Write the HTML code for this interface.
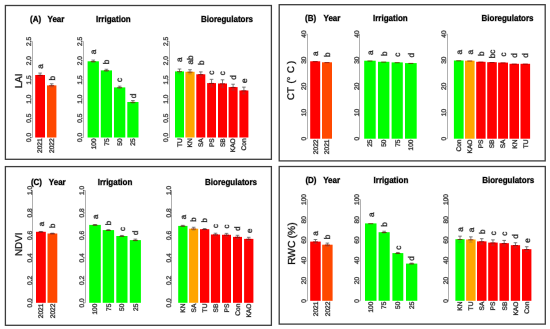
<!DOCTYPE html>
<html><head><meta charset="utf-8"><style>
html,body{margin:0;padding:0;background:#fff;}
svg{display:block;}
#w{width:550px;height:329px;will-change:transform;}
text{font-family:"Liberation Sans",sans-serif;stroke:#000;stroke-opacity:0.35;stroke-width:0.8px;paint-order:stroke;text-rendering:geometricPrecision;}
</style></head><body><div id="w">
<svg width="550" height="329" viewBox="0 0 550 329">
<rect width="550" height="329" fill="#fff"/>
<rect x="5.4" y="5.5" width="266.0" height="153.8" fill="none" stroke="#3c3c3c" stroke-width="1.3"/>
<rect x="279.2" y="4.7" width="266.00000000000006" height="156.20000000000002" fill="none" stroke="#3c3c3c" stroke-width="1.3"/>
<rect x="5.4" y="166.6" width="266.0" height="158.70000000000002" fill="none" stroke="#3c3c3c" stroke-width="1.3"/>
<rect x="279.2" y="166.5" width="266.09999999999997" height="157.60000000000002" fill="none" stroke="#3c3c3c" stroke-width="1.3"/>
<text transform="translate(30.00,21.90) scale(1,1.1)" font-size="8.0" font-weight="bold" text-anchor="start" fill="#000">(A)</text>
<text transform="translate(47.50,21.90) scale(1,1.1)" font-size="8.0" font-weight="bold" text-anchor="start" fill="#000">Year</text>
<text transform="translate(96.00,21.90) scale(1,1.1)" font-size="8.0" font-weight="bold" text-anchor="start" fill="#000">Irrigation</text>
<text transform="translate(201.00,21.90) scale(1,1.1)" font-size="8.0" font-weight="bold" text-anchor="start" fill="#000">Bioregulators</text>
<text transform="translate(22.00,88.30) rotate(-90)" font-size="9.9" font-weight="normal" text-anchor="start" fill="#111">LAI</text>
<line x1="32.50" y1="137.50" x2="32.50" y2="41.40" stroke="#b0b0b0" stroke-width="1.0"/>
<line x1="30.70" y1="137.50" x2="32.50" y2="137.50" stroke="#b0b0b0" stroke-width="0.8"/>
<text transform="translate(31.00,137.50) rotate(-90)" font-size="6.6" font-weight="normal" text-anchor="middle" fill="#333">0.0</text>
<line x1="30.70" y1="118.28" x2="32.50" y2="118.28" stroke="#b0b0b0" stroke-width="0.8"/>
<text transform="translate(31.00,118.28) rotate(-90)" font-size="6.6" font-weight="normal" text-anchor="middle" fill="#333">0.5</text>
<line x1="30.70" y1="99.06" x2="32.50" y2="99.06" stroke="#b0b0b0" stroke-width="0.8"/>
<text transform="translate(31.00,99.06) rotate(-90)" font-size="6.6" font-weight="normal" text-anchor="middle" fill="#333">1.0</text>
<line x1="30.70" y1="79.84" x2="32.50" y2="79.84" stroke="#b0b0b0" stroke-width="0.8"/>
<text transform="translate(31.00,79.84) rotate(-90)" font-size="6.6" font-weight="normal" text-anchor="middle" fill="#333">1.5</text>
<line x1="30.70" y1="60.62" x2="32.50" y2="60.62" stroke="#b0b0b0" stroke-width="0.8"/>
<text transform="translate(31.00,60.62) rotate(-90)" font-size="6.6" font-weight="normal" text-anchor="middle" fill="#333">2.0</text>
<line x1="30.70" y1="41.40" x2="32.50" y2="41.40" stroke="#b0b0b0" stroke-width="0.8"/>
<text transform="translate(31.00,41.40) rotate(-90)" font-size="6.6" font-weight="normal" text-anchor="middle" fill="#333">2.5</text>
<rect x="35.20" y="75.00" width="9.80" height="62.50" fill="#ff0000"/>
<line x1="40.10" y1="73.08" x2="40.10" y2="75.00" stroke="#606060" stroke-width="0.8"/>
<line x1="38.30" y1="73.08" x2="41.90" y2="73.08" stroke="#606060" stroke-width="0.8"/>
<g opacity="0.45">
<line x1="40.10" y1="75.00" x2="40.10" y2="76.92" stroke="#606060" stroke-width="0.8"/>
<line x1="38.30" y1="76.92" x2="41.90" y2="76.92" stroke="#606060" stroke-width="0.8"/>
</g>
<line x1="37.60" y1="75.30" x2="42.60" y2="75.30" stroke="#700000" stroke-width="0.7"/>
<text transform="translate(42.90,68.80) rotate(-90)" font-size="8.2" font-weight="normal" text-anchor="start" fill="#1a1a1a">a</text>
<text transform="translate(42.40,138.30) rotate(-90)" font-size="6.6" font-weight="normal" text-anchor="end" fill="#222">2021</text>
<rect x="47.00" y="85.40" width="9.40" height="52.10" fill="#ff4800"/>
<line x1="51.70" y1="83.80" x2="51.70" y2="85.40" stroke="#606060" stroke-width="0.8"/>
<line x1="49.90" y1="83.80" x2="53.50" y2="83.80" stroke="#606060" stroke-width="0.8"/>
<g opacity="0.45">
<line x1="51.70" y1="85.40" x2="51.70" y2="87.00" stroke="#606060" stroke-width="0.8"/>
<line x1="49.90" y1="87.00" x2="53.50" y2="87.00" stroke="#606060" stroke-width="0.8"/>
</g>
<line x1="49.20" y1="85.70" x2="54.20" y2="85.70" stroke="#700000" stroke-width="0.7"/>
<text transform="translate(54.50,80.40) rotate(-90)" font-size="8.2" font-weight="normal" text-anchor="start" fill="#1a1a1a">b</text>
<text transform="translate(54.00,138.30) rotate(-90)" font-size="6.6" font-weight="normal" text-anchor="end" fill="#222">2022</text>
<line x1="83.50" y1="137.50" x2="83.50" y2="41.40" stroke="#b0b0b0" stroke-width="1.0"/>
<line x1="81.70" y1="137.50" x2="83.50" y2="137.50" stroke="#b0b0b0" stroke-width="0.8"/>
<text transform="translate(82.40,137.50) rotate(-90)" font-size="6.6" font-weight="normal" text-anchor="middle" fill="#333">0.0</text>
<line x1="81.70" y1="118.28" x2="83.50" y2="118.28" stroke="#b0b0b0" stroke-width="0.8"/>
<text transform="translate(82.40,118.28) rotate(-90)" font-size="6.6" font-weight="normal" text-anchor="middle" fill="#333">0.5</text>
<line x1="81.70" y1="99.06" x2="83.50" y2="99.06" stroke="#b0b0b0" stroke-width="0.8"/>
<text transform="translate(82.40,99.06) rotate(-90)" font-size="6.6" font-weight="normal" text-anchor="middle" fill="#333">1.0</text>
<line x1="81.70" y1="79.84" x2="83.50" y2="79.84" stroke="#b0b0b0" stroke-width="0.8"/>
<text transform="translate(82.40,79.84) rotate(-90)" font-size="6.6" font-weight="normal" text-anchor="middle" fill="#333">1.5</text>
<line x1="81.70" y1="60.62" x2="83.50" y2="60.62" stroke="#b0b0b0" stroke-width="0.8"/>
<text transform="translate(82.40,60.62) rotate(-90)" font-size="6.6" font-weight="normal" text-anchor="middle" fill="#333">2.0</text>
<line x1="81.70" y1="41.40" x2="83.50" y2="41.40" stroke="#b0b0b0" stroke-width="0.8"/>
<text transform="translate(82.40,41.40) rotate(-90)" font-size="6.6" font-weight="normal" text-anchor="middle" fill="#333">2.5</text>
<rect x="87.60" y="61.30" width="11.30" height="76.20" fill="#00ff00"/>
<line x1="93.25" y1="60.10" x2="93.25" y2="61.30" stroke="#606060" stroke-width="0.8"/>
<line x1="91.45" y1="60.10" x2="95.05" y2="60.10" stroke="#606060" stroke-width="0.8"/>
<g opacity="0.45">
<line x1="93.25" y1="61.30" x2="93.25" y2="62.50" stroke="#606060" stroke-width="0.8"/>
<line x1="91.45" y1="62.50" x2="95.05" y2="62.50" stroke="#606060" stroke-width="0.8"/>
</g>
<line x1="90.75" y1="61.60" x2="95.75" y2="61.60" stroke="#700000" stroke-width="0.7"/>
<text transform="translate(96.05,54.20) rotate(-90)" font-size="8.2" font-weight="normal" text-anchor="start" fill="#1a1a1a">a</text>
<text transform="translate(95.55,138.30) rotate(-90)" font-size="6.6" font-weight="normal" text-anchor="end" fill="#222">100</text>
<rect x="100.80" y="70.40" width="11.20" height="67.10" fill="#00ff00"/>
<line x1="106.40" y1="69.28" x2="106.40" y2="70.40" stroke="#606060" stroke-width="0.8"/>
<line x1="104.60" y1="69.28" x2="108.20" y2="69.28" stroke="#606060" stroke-width="0.8"/>
<g opacity="0.45">
<line x1="106.40" y1="70.40" x2="106.40" y2="71.52" stroke="#606060" stroke-width="0.8"/>
<line x1="104.60" y1="71.52" x2="108.20" y2="71.52" stroke="#606060" stroke-width="0.8"/>
</g>
<line x1="103.90" y1="70.70" x2="108.90" y2="70.70" stroke="#700000" stroke-width="0.7"/>
<text transform="translate(109.20,64.20) rotate(-90)" font-size="8.2" font-weight="normal" text-anchor="start" fill="#1a1a1a">b</text>
<text transform="translate(108.70,138.30) rotate(-90)" font-size="6.6" font-weight="normal" text-anchor="end" fill="#222">75</text>
<rect x="114.00" y="87.40" width="11.30" height="50.10" fill="#00ff00"/>
<line x1="119.65" y1="86.20" x2="119.65" y2="87.40" stroke="#606060" stroke-width="0.8"/>
<line x1="117.85" y1="86.20" x2="121.45" y2="86.20" stroke="#606060" stroke-width="0.8"/>
<g opacity="0.45">
<line x1="119.65" y1="87.40" x2="119.65" y2="88.60" stroke="#606060" stroke-width="0.8"/>
<line x1="117.85" y1="88.60" x2="121.45" y2="88.60" stroke="#606060" stroke-width="0.8"/>
</g>
<line x1="117.15" y1="87.70" x2="122.15" y2="87.70" stroke="#700000" stroke-width="0.7"/>
<text transform="translate(122.45,81.90) rotate(-90)" font-size="8.2" font-weight="normal" text-anchor="start" fill="#1a1a1a">c</text>
<text transform="translate(121.95,138.30) rotate(-90)" font-size="6.6" font-weight="normal" text-anchor="end" fill="#222">50</text>
<rect x="127.30" y="102.00" width="11.20" height="35.50" fill="#00ff00"/>
<line x1="132.90" y1="100.56" x2="132.90" y2="102.00" stroke="#606060" stroke-width="0.8"/>
<line x1="131.10" y1="100.56" x2="134.70" y2="100.56" stroke="#606060" stroke-width="0.8"/>
<g opacity="0.45">
<line x1="132.90" y1="102.00" x2="132.90" y2="103.44" stroke="#606060" stroke-width="0.8"/>
<line x1="131.10" y1="103.44" x2="134.70" y2="103.44" stroke="#606060" stroke-width="0.8"/>
</g>
<line x1="130.40" y1="102.30" x2="135.40" y2="102.30" stroke="#700000" stroke-width="0.7"/>
<text transform="translate(135.70,98.30) rotate(-90)" font-size="8.2" font-weight="normal" text-anchor="start" fill="#1a1a1a">d</text>
<text transform="translate(135.20,138.30) rotate(-90)" font-size="6.6" font-weight="normal" text-anchor="end" fill="#222">25</text>
<line x1="169.50" y1="137.50" x2="169.50" y2="41.40" stroke="#b0b0b0" stroke-width="1.0"/>
<line x1="167.70" y1="137.50" x2="169.50" y2="137.50" stroke="#b0b0b0" stroke-width="0.8"/>
<text transform="translate(167.70,137.50) rotate(-90)" font-size="6.6" font-weight="normal" text-anchor="middle" fill="#333">0.0</text>
<line x1="167.70" y1="118.28" x2="169.50" y2="118.28" stroke="#b0b0b0" stroke-width="0.8"/>
<text transform="translate(167.70,118.28) rotate(-90)" font-size="6.6" font-weight="normal" text-anchor="middle" fill="#333">0.5</text>
<line x1="167.70" y1="99.06" x2="169.50" y2="99.06" stroke="#b0b0b0" stroke-width="0.8"/>
<text transform="translate(167.70,99.06) rotate(-90)" font-size="6.6" font-weight="normal" text-anchor="middle" fill="#333">1.0</text>
<line x1="167.70" y1="79.84" x2="169.50" y2="79.84" stroke="#b0b0b0" stroke-width="0.8"/>
<text transform="translate(167.70,79.84) rotate(-90)" font-size="6.6" font-weight="normal" text-anchor="middle" fill="#333">1.5</text>
<line x1="167.70" y1="60.62" x2="169.50" y2="60.62" stroke="#b0b0b0" stroke-width="0.8"/>
<text transform="translate(167.70,60.62) rotate(-90)" font-size="6.6" font-weight="normal" text-anchor="middle" fill="#333">2.0</text>
<line x1="167.70" y1="41.40" x2="169.50" y2="41.40" stroke="#b0b0b0" stroke-width="0.8"/>
<text transform="translate(167.70,41.40) rotate(-90)" font-size="6.6" font-weight="normal" text-anchor="middle" fill="#333">2.5</text>
<rect x="175.00" y="71.40" width="9.00" height="66.10" fill="#00ff00"/>
<line x1="179.50" y1="69.00" x2="179.50" y2="71.40" stroke="#606060" stroke-width="0.8"/>
<line x1="177.70" y1="69.00" x2="181.30" y2="69.00" stroke="#606060" stroke-width="0.8"/>
<g opacity="0.45">
<line x1="179.50" y1="71.40" x2="179.50" y2="73.80" stroke="#606060" stroke-width="0.8"/>
<line x1="177.70" y1="73.80" x2="181.30" y2="73.80" stroke="#606060" stroke-width="0.8"/>
</g>
<line x1="177.00" y1="71.70" x2="182.00" y2="71.70" stroke="#700000" stroke-width="0.7"/>
<text transform="translate(182.30,62.10) rotate(-90)" font-size="8.2" font-weight="normal" text-anchor="start" fill="#1a1a1a">a</text>
<text transform="translate(181.80,138.30) rotate(-90)" font-size="6.6" font-weight="normal" text-anchor="end" fill="#222">TU</text>
<rect x="185.40" y="71.80" width="9.20" height="65.70" fill="#ffa500"/>
<line x1="190.00" y1="69.72" x2="190.00" y2="71.80" stroke="#606060" stroke-width="0.8"/>
<line x1="188.20" y1="69.72" x2="191.80" y2="69.72" stroke="#606060" stroke-width="0.8"/>
<g opacity="0.45">
<line x1="190.00" y1="71.80" x2="190.00" y2="73.88" stroke="#606060" stroke-width="0.8"/>
<line x1="188.20" y1="73.88" x2="191.80" y2="73.88" stroke="#606060" stroke-width="0.8"/>
</g>
<line x1="187.50" y1="72.10" x2="192.50" y2="72.10" stroke="#700000" stroke-width="0.7"/>
<text transform="translate(192.80,64.60) rotate(-90)" font-size="8.2" font-weight="normal" text-anchor="start" fill="#1a1a1a">ab</text>
<text transform="translate(192.30,138.30) rotate(-90)" font-size="6.6" font-weight="normal" text-anchor="end" fill="#222">KN</text>
<rect x="196.30" y="74.30" width="9.00" height="63.20" fill="#ff0000"/>
<line x1="200.80" y1="71.90" x2="200.80" y2="74.30" stroke="#606060" stroke-width="0.8"/>
<line x1="199.00" y1="71.90" x2="202.60" y2="71.90" stroke="#606060" stroke-width="0.8"/>
<g opacity="0.45">
<line x1="200.80" y1="74.30" x2="200.80" y2="76.70" stroke="#606060" stroke-width="0.8"/>
<line x1="199.00" y1="76.70" x2="202.60" y2="76.70" stroke="#606060" stroke-width="0.8"/>
</g>
<line x1="198.30" y1="74.60" x2="203.30" y2="74.60" stroke="#700000" stroke-width="0.7"/>
<text transform="translate(203.60,65.10) rotate(-90)" font-size="8.2" font-weight="normal" text-anchor="start" fill="#1a1a1a">b</text>
<text transform="translate(203.10,138.30) rotate(-90)" font-size="6.6" font-weight="normal" text-anchor="end" fill="#222">SA</text>
<rect x="207.10" y="83.10" width="8.90" height="54.40" fill="#ff0000"/>
<line x1="211.55" y1="79.34" x2="211.55" y2="83.10" stroke="#606060" stroke-width="0.8"/>
<line x1="209.75" y1="79.34" x2="213.35" y2="79.34" stroke="#606060" stroke-width="0.8"/>
<g opacity="0.45">
<line x1="211.55" y1="83.10" x2="211.55" y2="86.86" stroke="#606060" stroke-width="0.8"/>
<line x1="209.75" y1="86.86" x2="213.35" y2="86.86" stroke="#606060" stroke-width="0.8"/>
</g>
<line x1="209.05" y1="83.40" x2="214.05" y2="83.40" stroke="#700000" stroke-width="0.7"/>
<text transform="translate(214.35,74.70) rotate(-90)" font-size="8.2" font-weight="normal" text-anchor="start" fill="#1a1a1a">c</text>
<text transform="translate(213.85,138.30) rotate(-90)" font-size="6.6" font-weight="normal" text-anchor="end" fill="#222">PS</text>
<rect x="218.00" y="83.50" width="9.00" height="54.00" fill="#ff0000"/>
<line x1="222.50" y1="79.82" x2="222.50" y2="83.50" stroke="#606060" stroke-width="0.8"/>
<line x1="220.70" y1="79.82" x2="224.30" y2="79.82" stroke="#606060" stroke-width="0.8"/>
<g opacity="0.45">
<line x1="222.50" y1="83.50" x2="222.50" y2="87.18" stroke="#606060" stroke-width="0.8"/>
<line x1="220.70" y1="87.18" x2="224.30" y2="87.18" stroke="#606060" stroke-width="0.8"/>
</g>
<line x1="220.00" y1="83.80" x2="225.00" y2="83.80" stroke="#700000" stroke-width="0.7"/>
<text transform="translate(225.30,75.20) rotate(-90)" font-size="8.2" font-weight="normal" text-anchor="start" fill="#1a1a1a">c</text>
<text transform="translate(224.80,138.30) rotate(-90)" font-size="6.6" font-weight="normal" text-anchor="end" fill="#222">SB</text>
<rect x="228.60" y="87.10" width="9.00" height="50.40" fill="#ff0000"/>
<line x1="233.10" y1="84.22" x2="233.10" y2="87.10" stroke="#606060" stroke-width="0.8"/>
<line x1="231.30" y1="84.22" x2="234.90" y2="84.22" stroke="#606060" stroke-width="0.8"/>
<g opacity="0.45">
<line x1="233.10" y1="87.10" x2="233.10" y2="89.98" stroke="#606060" stroke-width="0.8"/>
<line x1="231.30" y1="89.98" x2="234.90" y2="89.98" stroke="#606060" stroke-width="0.8"/>
</g>
<line x1="230.60" y1="87.40" x2="235.60" y2="87.40" stroke="#700000" stroke-width="0.7"/>
<text transform="translate(235.90,79.70) rotate(-90)" font-size="8.2" font-weight="normal" text-anchor="start" fill="#1a1a1a">d</text>
<text transform="translate(235.40,138.30) rotate(-90)" font-size="6.6" font-weight="normal" text-anchor="end" fill="#222">KAO</text>
<rect x="239.40" y="90.50" width="9.00" height="47.00" fill="#ff0000"/>
<line x1="243.90" y1="87.14" x2="243.90" y2="90.50" stroke="#606060" stroke-width="0.8"/>
<line x1="242.10" y1="87.14" x2="245.70" y2="87.14" stroke="#606060" stroke-width="0.8"/>
<g opacity="0.45">
<line x1="243.90" y1="90.50" x2="243.90" y2="93.86" stroke="#606060" stroke-width="0.8"/>
<line x1="242.10" y1="93.86" x2="245.70" y2="93.86" stroke="#606060" stroke-width="0.8"/>
</g>
<line x1="241.40" y1="90.80" x2="246.40" y2="90.80" stroke="#700000" stroke-width="0.7"/>
<text transform="translate(246.70,83.00) rotate(-90)" font-size="8.2" font-weight="normal" text-anchor="start" fill="#1a1a1a">e</text>
<text transform="translate(246.20,138.30) rotate(-90)" font-size="6.6" font-weight="normal" text-anchor="end" fill="#222">Con</text>
<text transform="translate(305.00,20.50) scale(1,1.1)" font-size="8.0" font-weight="bold" text-anchor="start" fill="#000">(B)</text>
<text transform="translate(323.50,20.50) scale(1,1.1)" font-size="8.0" font-weight="bold" text-anchor="start" fill="#000">Year</text>
<text transform="translate(373.00,20.50) scale(1,1.1)" font-size="8.0" font-weight="bold" text-anchor="start" fill="#000">Irrigation</text>
<text transform="translate(481.50,20.50) scale(1,1.1)" font-size="8.0" font-weight="bold" text-anchor="start" fill="#000">Bioregulators</text>
<text transform="translate(293.80,100.00) rotate(-90)" font-size="9.6" fill="#111"><tspan x="0">CT</tspan><tspan x="16.5">(</tspan><tspan x="19.4">°</tspan><tspan x="27.0">C</tspan><tspan x="36.0">)</tspan></text>
<line x1="307.50" y1="138.70" x2="307.50" y2="34.00" stroke="#b0b0b0" stroke-width="1.0"/>
<line x1="305.70" y1="138.70" x2="307.50" y2="138.70" stroke="#b0b0b0" stroke-width="0.8"/>
<text transform="translate(305.90,138.70) rotate(-90)" font-size="6.6" font-weight="normal" text-anchor="middle" fill="#333">0</text>
<line x1="305.70" y1="112.52" x2="307.50" y2="112.52" stroke="#b0b0b0" stroke-width="0.8"/>
<text transform="translate(305.90,112.52) rotate(-90)" font-size="6.6" font-weight="normal" text-anchor="middle" fill="#333">10</text>
<line x1="305.70" y1="86.35" x2="307.50" y2="86.35" stroke="#b0b0b0" stroke-width="0.8"/>
<text transform="translate(305.90,86.35) rotate(-90)" font-size="6.6" font-weight="normal" text-anchor="middle" fill="#333">20</text>
<line x1="305.70" y1="60.17" x2="307.50" y2="60.17" stroke="#b0b0b0" stroke-width="0.8"/>
<text transform="translate(305.90,60.17) rotate(-90)" font-size="6.6" font-weight="normal" text-anchor="middle" fill="#333">30</text>
<line x1="305.70" y1="34.00" x2="307.50" y2="34.00" stroke="#b0b0b0" stroke-width="0.8"/>
<text transform="translate(305.90,34.00) rotate(-90)" font-size="6.6" font-weight="normal" text-anchor="middle" fill="#333">40</text>
<rect x="310.20" y="61.30" width="10.00" height="77.40" fill="#ff0000"/>
<line x1="312.70" y1="61.60" x2="317.70" y2="61.60" stroke="#700000" stroke-width="0.7"/>
<text transform="translate(318.00,56.10) rotate(-90)" font-size="8.2" font-weight="normal" text-anchor="start" fill="#1a1a1a">a</text>
<text transform="translate(317.50,139.50) rotate(-90)" font-size="6.6" font-weight="normal" text-anchor="end" fill="#222">2022</text>
<rect x="322.00" y="62.30" width="10.00" height="76.40" fill="#ff4800"/>
<line x1="324.50" y1="62.60" x2="329.50" y2="62.60" stroke="#700000" stroke-width="0.7"/>
<text transform="translate(329.80,57.10) rotate(-90)" font-size="8.2" font-weight="normal" text-anchor="start" fill="#1a1a1a">b</text>
<text transform="translate(329.30,139.50) rotate(-90)" font-size="6.6" font-weight="normal" text-anchor="end" fill="#222">2021</text>
<line x1="359.50" y1="138.70" x2="359.50" y2="34.00" stroke="#b0b0b0" stroke-width="1.0"/>
<line x1="357.70" y1="138.70" x2="359.50" y2="138.70" stroke="#b0b0b0" stroke-width="0.8"/>
<text transform="translate(358.50,138.70) rotate(-90)" font-size="6.6" font-weight="normal" text-anchor="middle" fill="#333">0</text>
<line x1="357.70" y1="112.52" x2="359.50" y2="112.52" stroke="#b0b0b0" stroke-width="0.8"/>
<text transform="translate(358.50,112.52) rotate(-90)" font-size="6.6" font-weight="normal" text-anchor="middle" fill="#333">10</text>
<line x1="357.70" y1="86.35" x2="359.50" y2="86.35" stroke="#b0b0b0" stroke-width="0.8"/>
<text transform="translate(358.50,86.35) rotate(-90)" font-size="6.6" font-weight="normal" text-anchor="middle" fill="#333">20</text>
<line x1="357.70" y1="60.17" x2="359.50" y2="60.17" stroke="#b0b0b0" stroke-width="0.8"/>
<text transform="translate(358.50,60.17) rotate(-90)" font-size="6.6" font-weight="normal" text-anchor="middle" fill="#333">30</text>
<line x1="357.70" y1="34.00" x2="359.50" y2="34.00" stroke="#b0b0b0" stroke-width="0.8"/>
<text transform="translate(358.50,34.00) rotate(-90)" font-size="6.6" font-weight="normal" text-anchor="middle" fill="#333">40</text>
<rect x="364.20" y="60.70" width="11.50" height="78.00" fill="#00ff00"/>
<line x1="367.45" y1="61.00" x2="372.45" y2="61.00" stroke="#700000" stroke-width="0.7"/>
<text transform="translate(372.75,55.00) rotate(-90)" font-size="8.2" font-weight="normal" text-anchor="start" fill="#1a1a1a">a</text>
<text transform="translate(372.25,139.50) rotate(-90)" font-size="6.6" font-weight="normal" text-anchor="end" fill="#222">25</text>
<rect x="378.00" y="61.80" width="11.40" height="76.90" fill="#00ff00"/>
<line x1="381.20" y1="62.10" x2="386.20" y2="62.10" stroke="#700000" stroke-width="0.7"/>
<text transform="translate(386.50,56.10) rotate(-90)" font-size="8.2" font-weight="normal" text-anchor="start" fill="#1a1a1a">b</text>
<text transform="translate(386.00,139.50) rotate(-90)" font-size="6.6" font-weight="normal" text-anchor="end" fill="#222">50</text>
<rect x="391.60" y="62.40" width="11.20" height="76.30" fill="#00ff00"/>
<line x1="394.70" y1="62.70" x2="399.70" y2="62.70" stroke="#700000" stroke-width="0.7"/>
<text transform="translate(400.00,56.70) rotate(-90)" font-size="8.2" font-weight="normal" text-anchor="start" fill="#1a1a1a">c</text>
<text transform="translate(399.50,139.50) rotate(-90)" font-size="6.6" font-weight="normal" text-anchor="end" fill="#222">75</text>
<rect x="405.00" y="63.10" width="11.70" height="75.60" fill="#00ff00"/>
<line x1="408.35" y1="63.40" x2="413.35" y2="63.40" stroke="#700000" stroke-width="0.7"/>
<text transform="translate(413.65,57.60) rotate(-90)" font-size="8.2" font-weight="normal" text-anchor="start" fill="#1a1a1a">d</text>
<text transform="translate(413.15,139.50) rotate(-90)" font-size="6.6" font-weight="normal" text-anchor="end" fill="#222">100</text>
<line x1="447.50" y1="138.70" x2="447.50" y2="34.00" stroke="#b0b0b0" stroke-width="1.0"/>
<line x1="445.70" y1="138.70" x2="447.50" y2="138.70" stroke="#b0b0b0" stroke-width="0.8"/>
<text transform="translate(446.40,138.70) rotate(-90)" font-size="6.6" font-weight="normal" text-anchor="middle" fill="#333">0</text>
<line x1="445.70" y1="112.52" x2="447.50" y2="112.52" stroke="#b0b0b0" stroke-width="0.8"/>
<text transform="translate(446.40,112.52) rotate(-90)" font-size="6.6" font-weight="normal" text-anchor="middle" fill="#333">10</text>
<line x1="445.70" y1="86.35" x2="447.50" y2="86.35" stroke="#b0b0b0" stroke-width="0.8"/>
<text transform="translate(446.40,86.35) rotate(-90)" font-size="6.6" font-weight="normal" text-anchor="middle" fill="#333">20</text>
<line x1="445.70" y1="60.17" x2="447.50" y2="60.17" stroke="#b0b0b0" stroke-width="0.8"/>
<text transform="translate(446.40,60.17) rotate(-90)" font-size="6.6" font-weight="normal" text-anchor="middle" fill="#333">30</text>
<line x1="445.70" y1="34.00" x2="447.50" y2="34.00" stroke="#b0b0b0" stroke-width="0.8"/>
<text transform="translate(446.40,34.00) rotate(-90)" font-size="6.6" font-weight="normal" text-anchor="middle" fill="#333">40</text>
<rect x="453.90" y="60.50" width="9.70" height="78.20" fill="#00ff00"/>
<line x1="456.25" y1="60.80" x2="461.25" y2="60.80" stroke="#700000" stroke-width="0.7"/>
<text transform="translate(461.55,54.60) rotate(-90)" font-size="8.2" font-weight="normal" text-anchor="start" fill="#1a1a1a">a</text>
<text transform="translate(461.05,139.50) rotate(-90)" font-size="6.6" font-weight="normal" text-anchor="end" fill="#222">Con</text>
<rect x="465.00" y="60.70" width="9.60" height="78.00" fill="#ffa500"/>
<line x1="467.30" y1="61.00" x2="472.30" y2="61.00" stroke="#700000" stroke-width="0.7"/>
<text transform="translate(472.60,54.60) rotate(-90)" font-size="8.2" font-weight="normal" text-anchor="start" fill="#1a1a1a">a</text>
<text transform="translate(472.10,139.50) rotate(-90)" font-size="6.6" font-weight="normal" text-anchor="end" fill="#222">KAO</text>
<rect x="476.20" y="61.80" width="9.40" height="76.90" fill="#ff0000"/>
<line x1="478.40" y1="62.10" x2="483.40" y2="62.10" stroke="#700000" stroke-width="0.7"/>
<text transform="translate(483.70,55.90) rotate(-90)" font-size="8.2" font-weight="normal" text-anchor="start" fill="#1a1a1a">b</text>
<text transform="translate(483.20,139.50) rotate(-90)" font-size="6.6" font-weight="normal" text-anchor="end" fill="#222">PS</text>
<rect x="487.20" y="62.20" width="9.60" height="76.50" fill="#ff0000"/>
<line x1="489.50" y1="62.50" x2="494.50" y2="62.50" stroke="#700000" stroke-width="0.7"/>
<text transform="translate(494.80,58.20) rotate(-90)" font-size="8.2" font-weight="normal" text-anchor="start" fill="#1a1a1a">bc</text>
<text transform="translate(494.30,139.50) rotate(-90)" font-size="6.6" font-weight="normal" text-anchor="end" fill="#222">SB</text>
<rect x="498.10" y="62.60" width="9.90" height="76.10" fill="#ff0000"/>
<line x1="500.55" y1="62.90" x2="505.55" y2="62.90" stroke="#700000" stroke-width="0.7"/>
<text transform="translate(505.85,56.60) rotate(-90)" font-size="8.2" font-weight="normal" text-anchor="start" fill="#1a1a1a">c</text>
<text transform="translate(505.35,139.50) rotate(-90)" font-size="6.6" font-weight="normal" text-anchor="end" fill="#222">SA</text>
<rect x="509.50" y="63.80" width="9.50" height="74.90" fill="#ff0000"/>
<line x1="511.75" y1="64.10" x2="516.75" y2="64.10" stroke="#700000" stroke-width="0.7"/>
<text transform="translate(517.05,57.70) rotate(-90)" font-size="8.2" font-weight="normal" text-anchor="start" fill="#1a1a1a">d</text>
<text transform="translate(516.55,139.50) rotate(-90)" font-size="6.6" font-weight="normal" text-anchor="end" fill="#222">KN</text>
<rect x="520.50" y="63.80" width="9.60" height="74.90" fill="#ff0000"/>
<line x1="522.80" y1="64.10" x2="527.80" y2="64.10" stroke="#700000" stroke-width="0.7"/>
<text transform="translate(528.10,57.70) rotate(-90)" font-size="8.2" font-weight="normal" text-anchor="start" fill="#1a1a1a">d</text>
<text transform="translate(527.60,139.50) rotate(-90)" font-size="6.6" font-weight="normal" text-anchor="end" fill="#222">TU</text>
<text transform="translate(30.90,185.00) scale(1,1.1)" font-size="8.0" font-weight="bold" text-anchor="start" fill="#000">(C)</text>
<text transform="translate(48.80,185.00) scale(1,1.1)" font-size="8.0" font-weight="bold" text-anchor="start" fill="#000">Year</text>
<text transform="translate(97.70,185.00) scale(1,1.1)" font-size="8.0" font-weight="bold" text-anchor="start" fill="#000">Irrigation</text>
<text transform="translate(205.00,185.00) scale(1,1.1)" font-size="8.0" font-weight="bold" text-anchor="start" fill="#000">Bioregulators</text>
<text transform="translate(22.20,256.00) rotate(-90)" font-size="9.8" font-weight="normal" text-anchor="start" fill="#111">NDVI</text>
<line x1="32.50" y1="302.80" x2="32.50" y2="190.50" stroke="#b0b0b0" stroke-width="1.0"/>
<line x1="30.70" y1="302.80" x2="32.50" y2="302.80" stroke="#b0b0b0" stroke-width="0.8"/>
<text transform="translate(31.50,302.80) rotate(-90)" font-size="6.6" font-weight="normal" text-anchor="middle" fill="#333">0.0</text>
<line x1="30.70" y1="280.34" x2="32.50" y2="280.34" stroke="#b0b0b0" stroke-width="0.8"/>
<text transform="translate(31.50,280.34) rotate(-90)" font-size="6.6" font-weight="normal" text-anchor="middle" fill="#333">0.2</text>
<line x1="30.70" y1="257.88" x2="32.50" y2="257.88" stroke="#b0b0b0" stroke-width="0.8"/>
<text transform="translate(31.50,257.88) rotate(-90)" font-size="6.6" font-weight="normal" text-anchor="middle" fill="#333">0.4</text>
<line x1="30.70" y1="235.42" x2="32.50" y2="235.42" stroke="#b0b0b0" stroke-width="0.8"/>
<text transform="translate(31.50,235.42) rotate(-90)" font-size="6.6" font-weight="normal" text-anchor="middle" fill="#333">0.6</text>
<line x1="30.70" y1="212.96" x2="32.50" y2="212.96" stroke="#b0b0b0" stroke-width="0.8"/>
<text transform="translate(31.50,212.96) rotate(-90)" font-size="6.6" font-weight="normal" text-anchor="middle" fill="#333">0.8</text>
<line x1="30.70" y1="190.50" x2="32.50" y2="190.50" stroke="#b0b0b0" stroke-width="0.8"/>
<text transform="translate(31.50,190.50) rotate(-90)" font-size="6.6" font-weight="normal" text-anchor="middle" fill="#333">1.0</text>
<rect x="36.00" y="231.80" width="9.80" height="71.00" fill="#ff0000"/>
<line x1="40.90" y1="231.48" x2="40.90" y2="231.80" stroke="#606060" stroke-width="0.8"/>
<line x1="39.10" y1="231.48" x2="42.70" y2="231.48" stroke="#606060" stroke-width="0.8"/>
<g opacity="0.45">
<line x1="40.90" y1="231.80" x2="40.90" y2="232.12" stroke="#606060" stroke-width="0.8"/>
<line x1="39.10" y1="232.12" x2="42.70" y2="232.12" stroke="#606060" stroke-width="0.8"/>
</g>
<line x1="38.40" y1="232.10" x2="43.40" y2="232.10" stroke="#700000" stroke-width="0.7"/>
<text transform="translate(43.70,226.30) rotate(-90)" font-size="7.8" font-weight="normal" text-anchor="start" fill="#1a1a1a">a</text>
<text transform="translate(43.20,303.60) rotate(-90)" font-size="6.6" font-weight="normal" text-anchor="end" fill="#222">2021</text>
<rect x="47.50" y="233.50" width="9.80" height="69.30" fill="#ff4800"/>
<line x1="52.40" y1="233.18" x2="52.40" y2="233.50" stroke="#606060" stroke-width="0.8"/>
<line x1="50.60" y1="233.18" x2="54.20" y2="233.18" stroke="#606060" stroke-width="0.8"/>
<g opacity="0.45">
<line x1="52.40" y1="233.50" x2="52.40" y2="233.82" stroke="#606060" stroke-width="0.8"/>
<line x1="50.60" y1="233.82" x2="54.20" y2="233.82" stroke="#606060" stroke-width="0.8"/>
</g>
<line x1="49.90" y1="233.80" x2="54.90" y2="233.80" stroke="#700000" stroke-width="0.7"/>
<text transform="translate(55.20,228.00) rotate(-90)" font-size="7.8" font-weight="normal" text-anchor="start" fill="#1a1a1a">b</text>
<text transform="translate(54.70,303.60) rotate(-90)" font-size="6.6" font-weight="normal" text-anchor="end" fill="#222">2022</text>
<line x1="85.50" y1="302.80" x2="85.50" y2="190.50" stroke="#b0b0b0" stroke-width="1.0"/>
<line x1="83.70" y1="302.80" x2="85.50" y2="302.80" stroke="#b0b0b0" stroke-width="0.8"/>
<text transform="translate(84.20,302.80) rotate(-90)" font-size="6.6" font-weight="normal" text-anchor="middle" fill="#333">0.0</text>
<line x1="83.70" y1="280.34" x2="85.50" y2="280.34" stroke="#b0b0b0" stroke-width="0.8"/>
<text transform="translate(84.20,280.34) rotate(-90)" font-size="6.6" font-weight="normal" text-anchor="middle" fill="#333">0.2</text>
<line x1="83.70" y1="257.88" x2="85.50" y2="257.88" stroke="#b0b0b0" stroke-width="0.8"/>
<text transform="translate(84.20,257.88) rotate(-90)" font-size="6.6" font-weight="normal" text-anchor="middle" fill="#333">0.4</text>
<line x1="83.70" y1="235.42" x2="85.50" y2="235.42" stroke="#b0b0b0" stroke-width="0.8"/>
<text transform="translate(84.20,235.42) rotate(-90)" font-size="6.6" font-weight="normal" text-anchor="middle" fill="#333">0.6</text>
<line x1="83.70" y1="212.96" x2="85.50" y2="212.96" stroke="#b0b0b0" stroke-width="0.8"/>
<text transform="translate(84.20,212.96) rotate(-90)" font-size="6.6" font-weight="normal" text-anchor="middle" fill="#333">0.8</text>
<line x1="83.70" y1="190.50" x2="85.50" y2="190.50" stroke="#b0b0b0" stroke-width="0.8"/>
<text transform="translate(84.20,190.50) rotate(-90)" font-size="6.6" font-weight="normal" text-anchor="middle" fill="#333">1.0</text>
<rect x="89.20" y="224.90" width="11.60" height="77.90" fill="#00ff00"/>
<line x1="95.00" y1="224.50" x2="95.00" y2="224.90" stroke="#606060" stroke-width="0.8"/>
<line x1="93.20" y1="224.50" x2="96.80" y2="224.50" stroke="#606060" stroke-width="0.8"/>
<g opacity="0.45">
<line x1="95.00" y1="224.90" x2="95.00" y2="225.30" stroke="#606060" stroke-width="0.8"/>
<line x1="93.20" y1="225.30" x2="96.80" y2="225.30" stroke="#606060" stroke-width="0.8"/>
</g>
<line x1="92.50" y1="225.20" x2="97.50" y2="225.20" stroke="#700000" stroke-width="0.7"/>
<text transform="translate(97.80,219.00) rotate(-90)" font-size="7.8" font-weight="normal" text-anchor="start" fill="#1a1a1a">a</text>
<text transform="translate(97.30,303.60) rotate(-90)" font-size="6.6" font-weight="normal" text-anchor="end" fill="#222">100</text>
<rect x="102.70" y="230.10" width="11.40" height="72.70" fill="#00ff00"/>
<line x1="108.40" y1="229.70" x2="108.40" y2="230.10" stroke="#606060" stroke-width="0.8"/>
<line x1="106.60" y1="229.70" x2="110.20" y2="229.70" stroke="#606060" stroke-width="0.8"/>
<g opacity="0.45">
<line x1="108.40" y1="230.10" x2="108.40" y2="230.50" stroke="#606060" stroke-width="0.8"/>
<line x1="106.60" y1="230.50" x2="110.20" y2="230.50" stroke="#606060" stroke-width="0.8"/>
</g>
<line x1="105.90" y1="230.40" x2="110.90" y2="230.40" stroke="#700000" stroke-width="0.7"/>
<text transform="translate(111.20,225.30) rotate(-90)" font-size="7.8" font-weight="normal" text-anchor="start" fill="#1a1a1a">b</text>
<text transform="translate(110.70,303.60) rotate(-90)" font-size="6.6" font-weight="normal" text-anchor="end" fill="#222">75</text>
<rect x="116.30" y="236.00" width="11.20" height="66.80" fill="#00ff00"/>
<line x1="121.90" y1="235.44" x2="121.90" y2="236.00" stroke="#606060" stroke-width="0.8"/>
<line x1="120.10" y1="235.44" x2="123.70" y2="235.44" stroke="#606060" stroke-width="0.8"/>
<g opacity="0.45">
<line x1="121.90" y1="236.00" x2="121.90" y2="236.56" stroke="#606060" stroke-width="0.8"/>
<line x1="120.10" y1="236.56" x2="123.70" y2="236.56" stroke="#606060" stroke-width="0.8"/>
</g>
<line x1="119.40" y1="236.30" x2="124.40" y2="236.30" stroke="#700000" stroke-width="0.7"/>
<text transform="translate(124.70,230.90) rotate(-90)" font-size="7.8" font-weight="normal" text-anchor="start" fill="#1a1a1a">c</text>
<text transform="translate(124.20,303.60) rotate(-90)" font-size="6.6" font-weight="normal" text-anchor="end" fill="#222">50</text>
<rect x="129.80" y="240.10" width="11.10" height="62.70" fill="#00ff00"/>
<line x1="135.35" y1="239.14" x2="135.35" y2="240.10" stroke="#606060" stroke-width="0.8"/>
<line x1="133.55" y1="239.14" x2="137.15" y2="239.14" stroke="#606060" stroke-width="0.8"/>
<g opacity="0.45">
<line x1="135.35" y1="240.10" x2="135.35" y2="241.06" stroke="#606060" stroke-width="0.8"/>
<line x1="133.55" y1="241.06" x2="137.15" y2="241.06" stroke="#606060" stroke-width="0.8"/>
</g>
<line x1="132.85" y1="240.40" x2="137.85" y2="240.40" stroke="#700000" stroke-width="0.7"/>
<text transform="translate(138.15,235.10) rotate(-90)" font-size="7.8" font-weight="normal" text-anchor="start" fill="#1a1a1a">d</text>
<text transform="translate(137.65,303.60) rotate(-90)" font-size="6.6" font-weight="normal" text-anchor="end" fill="#222">25</text>
<line x1="171.50" y1="302.80" x2="171.50" y2="190.50" stroke="#b0b0b0" stroke-width="1.0"/>
<line x1="169.70" y1="302.80" x2="171.50" y2="302.80" stroke="#b0b0b0" stroke-width="0.8"/>
<text transform="translate(170.50,302.80) rotate(-90)" font-size="6.6" font-weight="normal" text-anchor="middle" fill="#333">0.0</text>
<line x1="169.70" y1="280.34" x2="171.50" y2="280.34" stroke="#b0b0b0" stroke-width="0.8"/>
<text transform="translate(170.50,280.34) rotate(-90)" font-size="6.6" font-weight="normal" text-anchor="middle" fill="#333">0.2</text>
<line x1="169.70" y1="257.88" x2="171.50" y2="257.88" stroke="#b0b0b0" stroke-width="0.8"/>
<text transform="translate(170.50,257.88) rotate(-90)" font-size="6.6" font-weight="normal" text-anchor="middle" fill="#333">0.4</text>
<line x1="169.70" y1="235.42" x2="171.50" y2="235.42" stroke="#b0b0b0" stroke-width="0.8"/>
<text transform="translate(170.50,235.42) rotate(-90)" font-size="6.6" font-weight="normal" text-anchor="middle" fill="#333">0.6</text>
<line x1="169.70" y1="212.96" x2="171.50" y2="212.96" stroke="#b0b0b0" stroke-width="0.8"/>
<text transform="translate(170.50,212.96) rotate(-90)" font-size="6.6" font-weight="normal" text-anchor="middle" fill="#333">0.8</text>
<line x1="169.70" y1="190.50" x2="171.50" y2="190.50" stroke="#b0b0b0" stroke-width="0.8"/>
<text transform="translate(170.50,190.50) rotate(-90)" font-size="6.6" font-weight="normal" text-anchor="middle" fill="#333">1.0</text>
<rect x="178.20" y="225.90" width="9.30" height="76.90" fill="#00ff00"/>
<line x1="182.85" y1="225.34" x2="182.85" y2="225.90" stroke="#606060" stroke-width="0.8"/>
<line x1="181.05" y1="225.34" x2="184.65" y2="225.34" stroke="#606060" stroke-width="0.8"/>
<g opacity="0.45">
<line x1="182.85" y1="225.90" x2="182.85" y2="226.46" stroke="#606060" stroke-width="0.8"/>
<line x1="181.05" y1="226.46" x2="184.65" y2="226.46" stroke="#606060" stroke-width="0.8"/>
</g>
<line x1="180.35" y1="226.20" x2="185.35" y2="226.20" stroke="#700000" stroke-width="0.7"/>
<text transform="translate(185.65,219.30) rotate(-90)" font-size="7.8" font-weight="normal" text-anchor="start" fill="#1a1a1a">a</text>
<text transform="translate(185.15,303.60) rotate(-90)" font-size="6.6" font-weight="normal" text-anchor="end" fill="#222">KN</text>
<rect x="189.10" y="228.70" width="9.10" height="74.10" fill="#ffa500"/>
<line x1="193.65" y1="227.26" x2="193.65" y2="228.70" stroke="#606060" stroke-width="0.8"/>
<line x1="191.85" y1="227.26" x2="195.45" y2="227.26" stroke="#606060" stroke-width="0.8"/>
<g opacity="0.45">
<line x1="193.65" y1="228.70" x2="193.65" y2="230.14" stroke="#606060" stroke-width="0.8"/>
<line x1="191.85" y1="230.14" x2="195.45" y2="230.14" stroke="#606060" stroke-width="0.8"/>
</g>
<line x1="191.15" y1="229.00" x2="196.15" y2="229.00" stroke="#700000" stroke-width="0.7"/>
<text transform="translate(196.45,221.80) rotate(-90)" font-size="7.8" font-weight="normal" text-anchor="start" fill="#1a1a1a">b</text>
<text transform="translate(195.95,303.60) rotate(-90)" font-size="6.6" font-weight="normal" text-anchor="end" fill="#222">SA</text>
<rect x="200.00" y="229.20" width="9.30" height="73.60" fill="#ff0000"/>
<line x1="204.65" y1="228.56" x2="204.65" y2="229.20" stroke="#606060" stroke-width="0.8"/>
<line x1="202.85" y1="228.56" x2="206.45" y2="228.56" stroke="#606060" stroke-width="0.8"/>
<g opacity="0.45">
<line x1="204.65" y1="229.20" x2="204.65" y2="229.84" stroke="#606060" stroke-width="0.8"/>
<line x1="202.85" y1="229.84" x2="206.45" y2="229.84" stroke="#606060" stroke-width="0.8"/>
</g>
<line x1="202.15" y1="229.50" x2="207.15" y2="229.50" stroke="#700000" stroke-width="0.7"/>
<text transform="translate(207.45,222.60) rotate(-90)" font-size="7.8" font-weight="normal" text-anchor="start" fill="#1a1a1a">b</text>
<text transform="translate(206.95,303.60) rotate(-90)" font-size="6.6" font-weight="normal" text-anchor="end" fill="#222">TU</text>
<rect x="210.90" y="234.50" width="9.20" height="68.30" fill="#ff0000"/>
<line x1="215.50" y1="233.22" x2="215.50" y2="234.50" stroke="#606060" stroke-width="0.8"/>
<line x1="213.70" y1="233.22" x2="217.30" y2="233.22" stroke="#606060" stroke-width="0.8"/>
<g opacity="0.45">
<line x1="215.50" y1="234.50" x2="215.50" y2="235.78" stroke="#606060" stroke-width="0.8"/>
<line x1="213.70" y1="235.78" x2="217.30" y2="235.78" stroke="#606060" stroke-width="0.8"/>
</g>
<line x1="213.00" y1="234.80" x2="218.00" y2="234.80" stroke="#700000" stroke-width="0.7"/>
<text transform="translate(218.30,228.00) rotate(-90)" font-size="7.8" font-weight="normal" text-anchor="start" fill="#1a1a1a">c</text>
<text transform="translate(217.80,303.60) rotate(-90)" font-size="6.6" font-weight="normal" text-anchor="end" fill="#222">SB</text>
<rect x="222.00" y="234.80" width="9.00" height="68.00" fill="#ff0000"/>
<line x1="226.50" y1="233.36" x2="226.50" y2="234.80" stroke="#606060" stroke-width="0.8"/>
<line x1="224.70" y1="233.36" x2="228.30" y2="233.36" stroke="#606060" stroke-width="0.8"/>
<g opacity="0.45">
<line x1="226.50" y1="234.80" x2="226.50" y2="236.24" stroke="#606060" stroke-width="0.8"/>
<line x1="224.70" y1="236.24" x2="228.30" y2="236.24" stroke="#606060" stroke-width="0.8"/>
</g>
<line x1="224.00" y1="235.10" x2="229.00" y2="235.10" stroke="#700000" stroke-width="0.7"/>
<text transform="translate(229.30,228.60) rotate(-90)" font-size="7.8" font-weight="normal" text-anchor="start" fill="#1a1a1a">c</text>
<text transform="translate(228.80,303.60) rotate(-90)" font-size="6.6" font-weight="normal" text-anchor="end" fill="#222">PS</text>
<rect x="233.00" y="236.90" width="9.00" height="65.90" fill="#ff0000"/>
<line x1="237.50" y1="235.30" x2="237.50" y2="236.90" stroke="#606060" stroke-width="0.8"/>
<line x1="235.70" y1="235.30" x2="239.30" y2="235.30" stroke="#606060" stroke-width="0.8"/>
<g opacity="0.45">
<line x1="237.50" y1="236.90" x2="237.50" y2="238.50" stroke="#606060" stroke-width="0.8"/>
<line x1="235.70" y1="238.50" x2="239.30" y2="238.50" stroke="#606060" stroke-width="0.8"/>
</g>
<line x1="235.00" y1="237.20" x2="240.00" y2="237.20" stroke="#700000" stroke-width="0.7"/>
<text transform="translate(240.30,230.80) rotate(-90)" font-size="7.8" font-weight="normal" text-anchor="start" fill="#1a1a1a">d</text>
<text transform="translate(239.80,303.60) rotate(-90)" font-size="6.6" font-weight="normal" text-anchor="end" fill="#222">Con</text>
<rect x="244.10" y="238.90" width="9.30" height="63.90" fill="#ff0000"/>
<line x1="248.75" y1="237.30" x2="248.75" y2="238.90" stroke="#606060" stroke-width="0.8"/>
<line x1="246.95" y1="237.30" x2="250.55" y2="237.30" stroke="#606060" stroke-width="0.8"/>
<g opacity="0.45">
<line x1="248.75" y1="238.90" x2="248.75" y2="240.50" stroke="#606060" stroke-width="0.8"/>
<line x1="246.95" y1="240.50" x2="250.55" y2="240.50" stroke="#606060" stroke-width="0.8"/>
</g>
<line x1="246.25" y1="239.20" x2="251.25" y2="239.20" stroke="#700000" stroke-width="0.7"/>
<text transform="translate(251.55,232.90) rotate(-90)" font-size="7.8" font-weight="normal" text-anchor="start" fill="#1a1a1a">e</text>
<text transform="translate(251.05,303.60) rotate(-90)" font-size="6.6" font-weight="normal" text-anchor="end" fill="#222">KAO</text>
<text transform="translate(305.40,183.00) scale(1,1.1)" font-size="8.0" font-weight="bold" text-anchor="start" fill="#000">(D)</text>
<text transform="translate(323.20,183.00) scale(1,1.1)" font-size="8.0" font-weight="bold" text-anchor="start" fill="#000">Year</text>
<text transform="translate(373.60,183.00) scale(1,1.1)" font-size="8.0" font-weight="bold" text-anchor="start" fill="#000">Irrigation</text>
<text transform="translate(482.20,183.00) scale(1,1.1)" font-size="8.0" font-weight="bold" text-anchor="start" fill="#000">Bioregulators</text>
<text transform="translate(294.90,264.80) rotate(-90)" font-size="10.2" fill="#111"><tspan x="0">RWC</tspan><tspan x="26.5">(%)</tspan></text>
<line x1="307.50" y1="300.80" x2="307.50" y2="199.50" stroke="#b0b0b0" stroke-width="1.0"/>
<line x1="305.70" y1="300.80" x2="307.50" y2="300.80" stroke="#b0b0b0" stroke-width="0.8"/>
<text transform="translate(305.70,300.80) rotate(-90)" font-size="6.6" font-weight="normal" text-anchor="middle" fill="#333">0</text>
<line x1="305.70" y1="280.54" x2="307.50" y2="280.54" stroke="#b0b0b0" stroke-width="0.8"/>
<text transform="translate(305.70,280.54) rotate(-90)" font-size="6.6" font-weight="normal" text-anchor="middle" fill="#333">20</text>
<line x1="305.70" y1="260.28" x2="307.50" y2="260.28" stroke="#b0b0b0" stroke-width="0.8"/>
<text transform="translate(305.70,260.28) rotate(-90)" font-size="6.6" font-weight="normal" text-anchor="middle" fill="#333">40</text>
<line x1="305.70" y1="240.02" x2="307.50" y2="240.02" stroke="#b0b0b0" stroke-width="0.8"/>
<text transform="translate(305.70,240.02) rotate(-90)" font-size="6.6" font-weight="normal" text-anchor="middle" fill="#333">60</text>
<line x1="305.70" y1="219.76" x2="307.50" y2="219.76" stroke="#b0b0b0" stroke-width="0.8"/>
<text transform="translate(305.70,219.76) rotate(-90)" font-size="6.6" font-weight="normal" text-anchor="middle" fill="#333">80</text>
<line x1="305.70" y1="199.50" x2="307.50" y2="199.50" stroke="#b0b0b0" stroke-width="0.8"/>
<text transform="translate(305.70,199.50) rotate(-90)" font-size="6.6" font-weight="normal" text-anchor="middle" fill="#333">100</text>
<rect x="310.20" y="241.60" width="10.50" height="59.20" fill="#ff0000"/>
<line x1="315.45" y1="239.52" x2="315.45" y2="241.60" stroke="#606060" stroke-width="0.8"/>
<line x1="313.65" y1="239.52" x2="317.25" y2="239.52" stroke="#606060" stroke-width="0.8"/>
<g opacity="0.45">
<line x1="315.45" y1="241.60" x2="315.45" y2="243.68" stroke="#606060" stroke-width="0.8"/>
<line x1="313.65" y1="243.68" x2="317.25" y2="243.68" stroke="#606060" stroke-width="0.8"/>
</g>
<line x1="312.95" y1="241.90" x2="317.95" y2="241.90" stroke="#700000" stroke-width="0.7"/>
<text transform="translate(318.25,235.70) rotate(-90)" font-size="8.2" font-weight="normal" text-anchor="start" fill="#1a1a1a">a</text>
<text transform="translate(317.75,301.60) rotate(-90)" font-size="6.6" font-weight="normal" text-anchor="end" fill="#222">2021</text>
<rect x="322.20" y="244.70" width="10.40" height="56.10" fill="#ff4800"/>
<line x1="327.40" y1="243.10" x2="327.40" y2="244.70" stroke="#606060" stroke-width="0.8"/>
<line x1="325.60" y1="243.10" x2="329.20" y2="243.10" stroke="#606060" stroke-width="0.8"/>
<g opacity="0.45">
<line x1="327.40" y1="244.70" x2="327.40" y2="246.30" stroke="#606060" stroke-width="0.8"/>
<line x1="325.60" y1="246.30" x2="329.20" y2="246.30" stroke="#606060" stroke-width="0.8"/>
</g>
<line x1="324.90" y1="245.00" x2="329.90" y2="245.00" stroke="#700000" stroke-width="0.7"/>
<text transform="translate(330.20,239.30) rotate(-90)" font-size="8.2" font-weight="normal" text-anchor="start" fill="#1a1a1a">b</text>
<text transform="translate(329.70,301.60) rotate(-90)" font-size="6.6" font-weight="normal" text-anchor="end" fill="#222">2022</text>
<line x1="360.50" y1="300.80" x2="360.50" y2="199.50" stroke="#b0b0b0" stroke-width="1.0"/>
<line x1="358.70" y1="300.80" x2="360.50" y2="300.80" stroke="#b0b0b0" stroke-width="0.8"/>
<text transform="translate(359.40,300.80) rotate(-90)" font-size="6.6" font-weight="normal" text-anchor="middle" fill="#333">0</text>
<line x1="358.70" y1="280.54" x2="360.50" y2="280.54" stroke="#b0b0b0" stroke-width="0.8"/>
<text transform="translate(359.40,280.54) rotate(-90)" font-size="6.6" font-weight="normal" text-anchor="middle" fill="#333">20</text>
<line x1="358.70" y1="260.28" x2="360.50" y2="260.28" stroke="#b0b0b0" stroke-width="0.8"/>
<text transform="translate(359.40,260.28) rotate(-90)" font-size="6.6" font-weight="normal" text-anchor="middle" fill="#333">40</text>
<line x1="358.70" y1="240.02" x2="360.50" y2="240.02" stroke="#b0b0b0" stroke-width="0.8"/>
<text transform="translate(359.40,240.02) rotate(-90)" font-size="6.6" font-weight="normal" text-anchor="middle" fill="#333">60</text>
<line x1="358.70" y1="219.76" x2="360.50" y2="219.76" stroke="#b0b0b0" stroke-width="0.8"/>
<text transform="translate(359.40,219.76) rotate(-90)" font-size="6.6" font-weight="normal" text-anchor="middle" fill="#333">80</text>
<line x1="358.70" y1="199.50" x2="360.50" y2="199.50" stroke="#b0b0b0" stroke-width="0.8"/>
<text transform="translate(359.40,199.50) rotate(-90)" font-size="6.6" font-weight="normal" text-anchor="middle" fill="#333">100</text>
<rect x="365.00" y="223.40" width="11.50" height="77.40" fill="#00ff00"/>
<line x1="368.25" y1="223.70" x2="373.25" y2="223.70" stroke="#700000" stroke-width="0.7"/>
<text transform="translate(373.55,216.90) rotate(-90)" font-size="8.2" font-weight="normal" text-anchor="start" fill="#1a1a1a">a</text>
<text transform="translate(373.05,301.60) rotate(-90)" font-size="6.6" font-weight="normal" text-anchor="end" fill="#222">100</text>
<rect x="378.60" y="232.20" width="11.10" height="68.60" fill="#00ff00"/>
<line x1="384.15" y1="231.24" x2="384.15" y2="232.20" stroke="#606060" stroke-width="0.8"/>
<line x1="382.35" y1="231.24" x2="385.95" y2="231.24" stroke="#606060" stroke-width="0.8"/>
<g opacity="0.45">
<line x1="384.15" y1="232.20" x2="384.15" y2="233.16" stroke="#606060" stroke-width="0.8"/>
<line x1="382.35" y1="233.16" x2="385.95" y2="233.16" stroke="#606060" stroke-width="0.8"/>
</g>
<line x1="381.65" y1="232.50" x2="386.65" y2="232.50" stroke="#700000" stroke-width="0.7"/>
<text transform="translate(386.95,226.70) rotate(-90)" font-size="8.2" font-weight="normal" text-anchor="start" fill="#1a1a1a">b</text>
<text transform="translate(386.45,301.60) rotate(-90)" font-size="6.6" font-weight="normal" text-anchor="end" fill="#222">75</text>
<rect x="392.40" y="253.10" width="10.90" height="47.70" fill="#00ff00"/>
<line x1="397.85" y1="252.46" x2="397.85" y2="253.10" stroke="#606060" stroke-width="0.8"/>
<line x1="396.05" y1="252.46" x2="399.65" y2="252.46" stroke="#606060" stroke-width="0.8"/>
<g opacity="0.45">
<line x1="397.85" y1="253.10" x2="397.85" y2="253.74" stroke="#606060" stroke-width="0.8"/>
<line x1="396.05" y1="253.74" x2="399.65" y2="253.74" stroke="#606060" stroke-width="0.8"/>
</g>
<line x1="395.35" y1="253.40" x2="400.35" y2="253.40" stroke="#700000" stroke-width="0.7"/>
<text transform="translate(400.65,249.80) rotate(-90)" font-size="8.2" font-weight="normal" text-anchor="start" fill="#1a1a1a">c</text>
<text transform="translate(400.15,301.60) rotate(-90)" font-size="6.6" font-weight="normal" text-anchor="end" fill="#222">50</text>
<rect x="406.00" y="263.60" width="11.30" height="37.20" fill="#00ff00"/>
<line x1="411.65" y1="263.12" x2="411.65" y2="263.60" stroke="#606060" stroke-width="0.8"/>
<line x1="409.85" y1="263.12" x2="413.45" y2="263.12" stroke="#606060" stroke-width="0.8"/>
<g opacity="0.45">
<line x1="411.65" y1="263.60" x2="411.65" y2="264.08" stroke="#606060" stroke-width="0.8"/>
<line x1="409.85" y1="264.08" x2="413.45" y2="264.08" stroke="#606060" stroke-width="0.8"/>
</g>
<line x1="409.15" y1="263.90" x2="414.15" y2="263.90" stroke="#700000" stroke-width="0.7"/>
<text transform="translate(414.45,260.80) rotate(-90)" font-size="8.2" font-weight="normal" text-anchor="start" fill="#1a1a1a">d</text>
<text transform="translate(413.95,301.60) rotate(-90)" font-size="6.6" font-weight="normal" text-anchor="end" fill="#222">25</text>
<line x1="448.50" y1="300.80" x2="448.50" y2="199.50" stroke="#b0b0b0" stroke-width="1.0"/>
<line x1="446.70" y1="300.80" x2="448.50" y2="300.80" stroke="#b0b0b0" stroke-width="0.8"/>
<text transform="translate(447.60,300.80) rotate(-90)" font-size="6.6" font-weight="normal" text-anchor="middle" fill="#333">0</text>
<line x1="446.70" y1="280.54" x2="448.50" y2="280.54" stroke="#b0b0b0" stroke-width="0.8"/>
<text transform="translate(447.60,280.54) rotate(-90)" font-size="6.6" font-weight="normal" text-anchor="middle" fill="#333">20</text>
<line x1="446.70" y1="260.28" x2="448.50" y2="260.28" stroke="#b0b0b0" stroke-width="0.8"/>
<text transform="translate(447.60,260.28) rotate(-90)" font-size="6.6" font-weight="normal" text-anchor="middle" fill="#333">40</text>
<line x1="446.70" y1="240.02" x2="448.50" y2="240.02" stroke="#b0b0b0" stroke-width="0.8"/>
<text transform="translate(447.60,240.02) rotate(-90)" font-size="6.6" font-weight="normal" text-anchor="middle" fill="#333">60</text>
<line x1="446.70" y1="219.76" x2="448.50" y2="219.76" stroke="#b0b0b0" stroke-width="0.8"/>
<text transform="translate(447.60,219.76) rotate(-90)" font-size="6.6" font-weight="normal" text-anchor="middle" fill="#333">80</text>
<line x1="446.70" y1="199.50" x2="448.50" y2="199.50" stroke="#b0b0b0" stroke-width="0.8"/>
<text transform="translate(447.60,199.50) rotate(-90)" font-size="6.6" font-weight="normal" text-anchor="middle" fill="#333">100</text>
<rect x="455.40" y="239.20" width="9.20" height="61.60" fill="#00ff00"/>
<line x1="460.00" y1="236.16" x2="460.00" y2="239.20" stroke="#606060" stroke-width="0.8"/>
<line x1="458.20" y1="236.16" x2="461.80" y2="236.16" stroke="#606060" stroke-width="0.8"/>
<g opacity="0.45">
<line x1="460.00" y1="239.20" x2="460.00" y2="242.24" stroke="#606060" stroke-width="0.8"/>
<line x1="458.20" y1="242.24" x2="461.80" y2="242.24" stroke="#606060" stroke-width="0.8"/>
</g>
<line x1="457.50" y1="239.50" x2="462.50" y2="239.50" stroke="#700000" stroke-width="0.7"/>
<text transform="translate(462.80,231.80) rotate(-90)" font-size="8.2" font-weight="normal" text-anchor="start" fill="#1a1a1a">a</text>
<text transform="translate(462.30,301.60) rotate(-90)" font-size="6.6" font-weight="normal" text-anchor="end" fill="#222">KN</text>
<rect x="466.10" y="239.50" width="9.50" height="61.30" fill="#ffa500"/>
<line x1="470.85" y1="236.86" x2="470.85" y2="239.50" stroke="#606060" stroke-width="0.8"/>
<line x1="469.05" y1="236.86" x2="472.65" y2="236.86" stroke="#606060" stroke-width="0.8"/>
<g opacity="0.45">
<line x1="470.85" y1="239.50" x2="470.85" y2="242.14" stroke="#606060" stroke-width="0.8"/>
<line x1="469.05" y1="242.14" x2="472.65" y2="242.14" stroke="#606060" stroke-width="0.8"/>
</g>
<line x1="468.35" y1="239.80" x2="473.35" y2="239.80" stroke="#700000" stroke-width="0.7"/>
<text transform="translate(473.65,232.20) rotate(-90)" font-size="8.2" font-weight="normal" text-anchor="start" fill="#1a1a1a">a</text>
<text transform="translate(473.15,301.60) rotate(-90)" font-size="6.6" font-weight="normal" text-anchor="end" fill="#222">TU</text>
<rect x="477.00" y="241.40" width="9.50" height="59.40" fill="#ff0000"/>
<line x1="481.75" y1="238.68" x2="481.75" y2="241.40" stroke="#606060" stroke-width="0.8"/>
<line x1="479.95" y1="238.68" x2="483.55" y2="238.68" stroke="#606060" stroke-width="0.8"/>
<g opacity="0.45">
<line x1="481.75" y1="241.40" x2="481.75" y2="244.12" stroke="#606060" stroke-width="0.8"/>
<line x1="479.95" y1="244.12" x2="483.55" y2="244.12" stroke="#606060" stroke-width="0.8"/>
</g>
<line x1="479.25" y1="241.70" x2="484.25" y2="241.70" stroke="#700000" stroke-width="0.7"/>
<text transform="translate(484.55,234.10) rotate(-90)" font-size="8.2" font-weight="normal" text-anchor="start" fill="#1a1a1a">b</text>
<text transform="translate(484.05,301.60) rotate(-90)" font-size="6.6" font-weight="normal" text-anchor="end" fill="#222">SA</text>
<rect x="488.20" y="242.60" width="9.50" height="58.20" fill="#ff0000"/>
<line x1="492.95" y1="239.88" x2="492.95" y2="242.60" stroke="#606060" stroke-width="0.8"/>
<line x1="491.15" y1="239.88" x2="494.75" y2="239.88" stroke="#606060" stroke-width="0.8"/>
<g opacity="0.45">
<line x1="492.95" y1="242.60" x2="492.95" y2="245.32" stroke="#606060" stroke-width="0.8"/>
<line x1="491.15" y1="245.32" x2="494.75" y2="245.32" stroke="#606060" stroke-width="0.8"/>
</g>
<line x1="490.45" y1="242.90" x2="495.45" y2="242.90" stroke="#700000" stroke-width="0.7"/>
<text transform="translate(495.75,235.30) rotate(-90)" font-size="8.2" font-weight="normal" text-anchor="start" fill="#1a1a1a">c</text>
<text transform="translate(495.25,301.60) rotate(-90)" font-size="6.6" font-weight="normal" text-anchor="end" fill="#222">PS</text>
<rect x="499.50" y="243.20" width="9.40" height="57.60" fill="#ff0000"/>
<line x1="504.20" y1="240.40" x2="504.20" y2="243.20" stroke="#606060" stroke-width="0.8"/>
<line x1="502.40" y1="240.40" x2="506.00" y2="240.40" stroke="#606060" stroke-width="0.8"/>
<g opacity="0.45">
<line x1="504.20" y1="243.20" x2="504.20" y2="246.00" stroke="#606060" stroke-width="0.8"/>
<line x1="502.40" y1="246.00" x2="506.00" y2="246.00" stroke="#606060" stroke-width="0.8"/>
</g>
<line x1="501.70" y1="243.50" x2="506.70" y2="243.50" stroke="#700000" stroke-width="0.7"/>
<text transform="translate(507.00,235.80) rotate(-90)" font-size="8.2" font-weight="normal" text-anchor="start" fill="#1a1a1a">c</text>
<text transform="translate(506.50,301.60) rotate(-90)" font-size="6.6" font-weight="normal" text-anchor="end" fill="#222">SB</text>
<rect x="510.80" y="245.20" width="9.30" height="55.60" fill="#ff0000"/>
<line x1="515.45" y1="242.72" x2="515.45" y2="245.20" stroke="#606060" stroke-width="0.8"/>
<line x1="513.65" y1="242.72" x2="517.25" y2="242.72" stroke="#606060" stroke-width="0.8"/>
<g opacity="0.45">
<line x1="515.45" y1="245.20" x2="515.45" y2="247.68" stroke="#606060" stroke-width="0.8"/>
<line x1="513.65" y1="247.68" x2="517.25" y2="247.68" stroke="#606060" stroke-width="0.8"/>
</g>
<line x1="512.95" y1="245.50" x2="517.95" y2="245.50" stroke="#700000" stroke-width="0.7"/>
<text transform="translate(518.25,238.70) rotate(-90)" font-size="8.2" font-weight="normal" text-anchor="start" fill="#1a1a1a">d</text>
<text transform="translate(517.75,301.60) rotate(-90)" font-size="6.6" font-weight="normal" text-anchor="end" fill="#222">KAO</text>
<rect x="522.00" y="249.20" width="9.40" height="51.60" fill="#ff0000"/>
<line x1="526.70" y1="246.72" x2="526.70" y2="249.20" stroke="#606060" stroke-width="0.8"/>
<line x1="524.90" y1="246.72" x2="528.50" y2="246.72" stroke="#606060" stroke-width="0.8"/>
<g opacity="0.45">
<line x1="526.70" y1="249.20" x2="526.70" y2="251.68" stroke="#606060" stroke-width="0.8"/>
<line x1="524.90" y1="251.68" x2="528.50" y2="251.68" stroke="#606060" stroke-width="0.8"/>
</g>
<line x1="524.20" y1="249.50" x2="529.20" y2="249.50" stroke="#700000" stroke-width="0.7"/>
<text transform="translate(529.50,242.70) rotate(-90)" font-size="8.2" font-weight="normal" text-anchor="start" fill="#1a1a1a">e</text>
<text transform="translate(529.00,301.60) rotate(-90)" font-size="6.6" font-weight="normal" text-anchor="end" fill="#222">Con</text>
</svg></div>
</body></html>
